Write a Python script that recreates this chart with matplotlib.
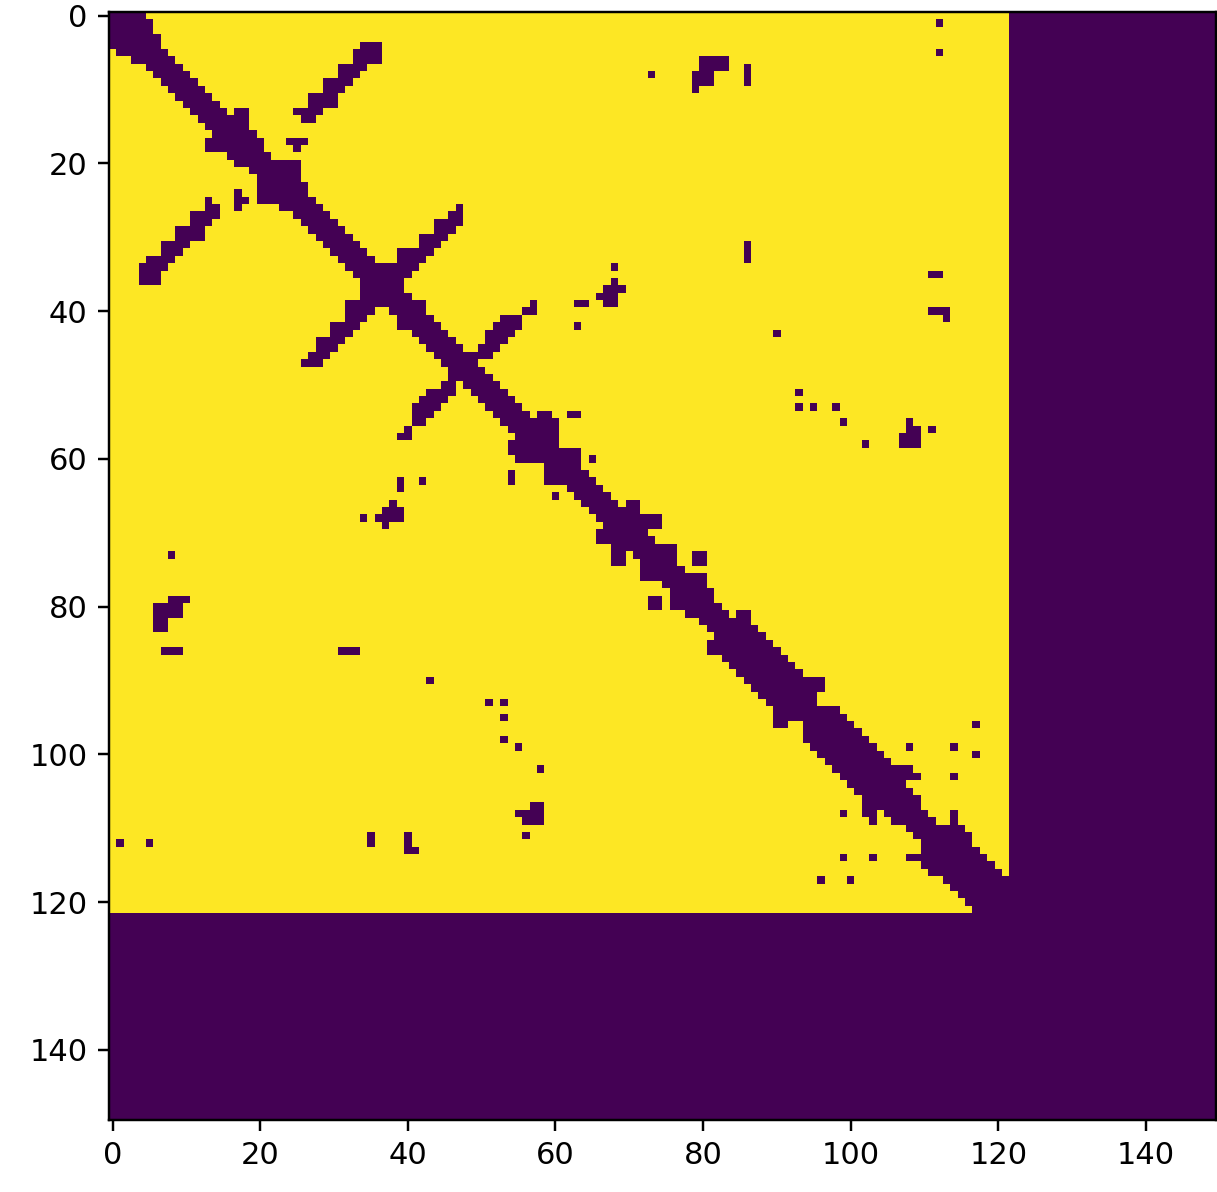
import numpy as np
import matplotlib.pyplot as plt

# contact map: 150x150 padded, 122 real residues
n_total = 150
n_res = 122

# last column of the main diagonal band, per row (upper triangle)
band_end = [4, 5, 5, 6, 6, 7, 8, 9, 10, 11,
            12, 13, 14, 15, 18, 18, 19, 20, 20, 21,
            25, 25, 25, 26, 26, 27, 28, 29, 30, 31,
            32, 33, 34, 35, 41, 40, 39, 39, 40, 42,
            42, 43, 44, 45, 46, 47, 51, 49, 50, 51,
            52, 53, 54, 55, 56, 60, 60, 60, 60, 63,
            63, 63, 64, 65, 66, 67, 68, 71, 74, 74,
            72, 73, 76, 76, 76, 77, 80, 80, 81, 81,
            82, 83, 86, 87, 88, 89, 90, 91, 92, 93,
            96, 96, 95, 95, 98, 99, 100, 101, 102, 103,
            104, 105, 108, 109, 107, 108, 109, 109, 110, 111,
            115, 116, 116, 117, 118, 119, 120, 121, 121, 121,
            121, 121]

# off-band contacts (row, first col, last col), upper triangle
extra_runs = [
    (1, 112, 112), (4, 34, 36), (5, 33, 36), (5, 112, 112), (6, 33, 36),
    (6, 80, 83), (7, 31, 34), (7, 80, 83), (7, 86, 86), (8, 31, 33),
    (8, 73, 73), (8, 79, 81), (8, 86, 86), (9, 29, 32), (9, 79, 81),
    (9, 86, 86), (10, 29, 31), (10, 79, 79), (11, 27, 30), (12, 27, 30),
    (13, 17, 18), (13, 25, 28), (14, 26, 27), (17, 24, 26), (18, 25, 25),
    (26, 47, 47), (27, 46, 47), (28, 44, 47), (29, 44, 46), (30, 42, 45),
    (31, 42, 44), (31, 86, 86), (32, 39, 43), (32, 86, 86), (33, 39, 42),
    (33, 86, 86), (34, 68, 68), (35, 111, 112), (36, 68, 68), (37, 67, 69),
    (38, 66, 68), (39, 57, 57), (39, 63, 64), (39, 67, 68), (40, 56, 57),
    (40, 111, 113), (41, 53, 55), (41, 113, 113), (42, 52, 55), (42, 63, 63),
    (43, 51, 54), (43, 90, 90), (44, 51, 53), (45, 50, 52), (51, 93, 93),
    (53, 93, 93), (53, 95, 95), (53, 98, 98), (54, 58, 59), (54, 62, 63),
    (55, 99, 99), (55, 108, 108), (56, 108, 109), (56, 111, 111), (57, 107, 109),
    (58, 102, 102), (58, 107, 109), (60, 65, 65), (66, 70, 71), (73, 79, 80),
    (74, 79, 80), (81, 85, 86), (96, 117, 117), (99, 108, 108), (99, 114, 114),
    (100, 117, 117), (103, 114, 114), (108, 114, 114), (109, 114, 114),
]

# build the symmetric map: 1 = far (yellow), 0 = contact / padding
cmap_data = np.zeros((n_total, n_total))
cmap_data[:n_res, :n_res] = 1
for r, end in enumerate(band_end):
    cmap_data[r, r:end + 1] = 0
for r, a, b in extra_runs:
    cmap_data[r, a:b + 1] = 0
cmap_data = np.minimum(cmap_data, cmap_data.T)

W, H, DPI = 1217, 1192, 220
fig = plt.figure(figsize=(W / DPI, H / DPI), dpi=DPI)
ax = fig.add_axes([109 / W, 72 / H, 1107 / W, 1108 / H])
ax.imshow(cmap_data, cmap="viridis", aspect="auto", interpolation="nearest")
fig.savefig("out.png", dpi=DPI)
plt.close()
